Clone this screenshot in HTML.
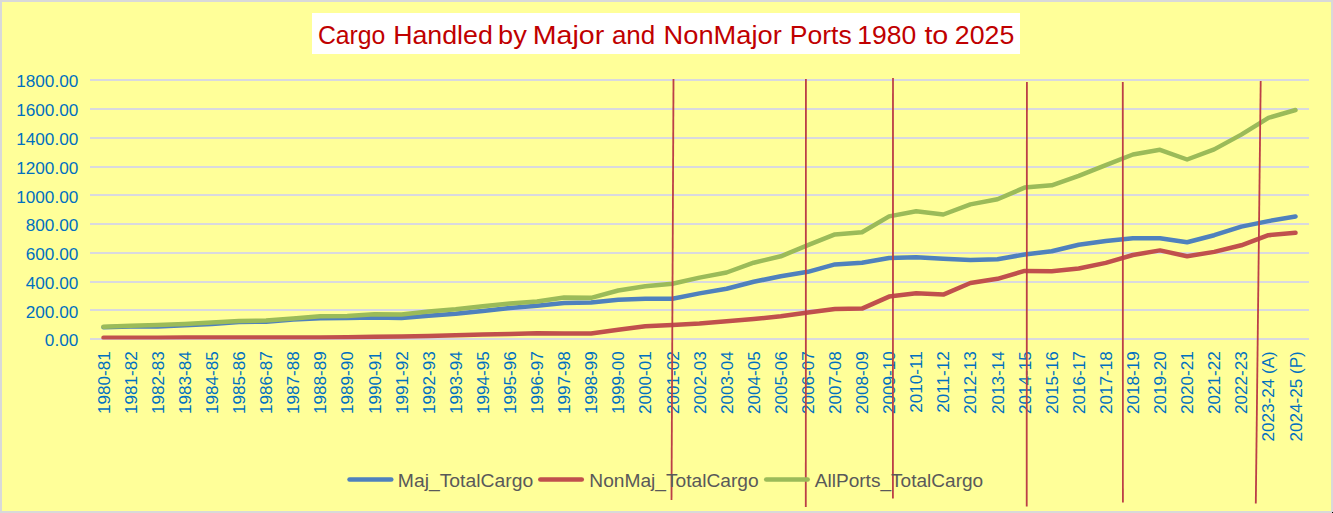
<!DOCTYPE html>
<html><head><meta charset="utf-8"><style>
html,body{margin:0;padding:0;width:1333px;height:513px;overflow:hidden;background:#d9d9d9;}
svg{display:block;position:absolute;left:0;top:0;}
text{font-family:"Liberation Sans",sans-serif;}
</style></head><body>
<svg width="1333" height="513" viewBox="0 0 1333 513">
<rect x="0" y="0" width="1333" height="513" fill="#d9d9d9"/>
<rect x="2" y="2" width="1329" height="509" fill="#ffff99"/>
<rect x="1332" y="512" width="1" height="1" fill="#000"/>
<rect x="312" y="13" width="708" height="41" fill="#ffffff"/>
<g font-size="25.2" fill="#c00000">
<text x="317.90" y="43.6" textLength="67.50" lengthAdjust="spacingAndGlyphs">Cargo</text>
<text x="393.16" y="43.6" textLength="99.67" lengthAdjust="spacingAndGlyphs">Handled</text>
<text x="498.06" y="43.6" textLength="28.75" lengthAdjust="spacingAndGlyphs">by</text>
<text x="532.80" y="43.6" textLength="71.40" lengthAdjust="spacingAndGlyphs">Major</text>
<text x="611.90" y="43.6" textLength="43.39" lengthAdjust="spacingAndGlyphs">and</text>
<text x="663.55" y="43.6" textLength="118.16" lengthAdjust="spacingAndGlyphs">NonMajor</text>
<text x="789.76" y="43.6" textLength="61.96" lengthAdjust="spacingAndGlyphs">Ports</text>
<text x="857.26" y="43.6" textLength="58.97" lengthAdjust="spacingAndGlyphs">1980</text>
<text x="924.40" y="43.6" textLength="23.90" lengthAdjust="spacingAndGlyphs">to</text>
<text x="954.87" y="43.6" textLength="59.44" lengthAdjust="spacingAndGlyphs">2025</text>
</g>
<g stroke="#d9d9df" stroke-width="2">
<line x1="90.0" y1="339" x2="1309.0" y2="339"/>
<line x1="90.0" y1="310" x2="1309.0" y2="310"/>
<line x1="90.0" y1="282" x2="1309.0" y2="282"/>
<line x1="90.0" y1="253" x2="1309.0" y2="253"/>
<line x1="90.0" y1="224" x2="1309.0" y2="224"/>
<line x1="90.0" y1="195" x2="1309.0" y2="195"/>
<line x1="90.0" y1="167" x2="1309.0" y2="167"/>
<line x1="90.0" y1="138" x2="1309.0" y2="138"/>
<line x1="90.0" y1="109" x2="1309.0" y2="109"/>
<line x1="90.0" y1="80" x2="1309.0" y2="80"/>
</g>
<g fill="#0070c0" font-size="17.2" text-anchor="end">
<text x="78.3" y="346.40">0.00</text>
<text x="78.3" y="317.62">200.00</text>
<text x="78.3" y="288.84">400.00</text>
<text x="78.3" y="260.07">600.00</text>
<text x="78.3" y="231.29">800.00</text>
<text x="78.3" y="202.51">1000.00</text>
<text x="78.3" y="173.73">1200.00</text>
<text x="78.3" y="144.96">1400.00</text>
<text x="78.3" y="116.18">1600.00</text>
<text x="78.3" y="87.40">1800.00</text>
</g>
<g fill="#0070c0" font-size="17.1">
<text transform="translate(109.64,351.2) rotate(-90)" text-anchor="end">1980-81</text>
<text transform="translate(136.73,351.2) rotate(-90)" text-anchor="end">1981-82</text>
<text transform="translate(163.82,351.2) rotate(-90)" text-anchor="end">1982-83</text>
<text transform="translate(190.91,351.2) rotate(-90)" text-anchor="end">1983-84</text>
<text transform="translate(218.00,351.2) rotate(-90)" text-anchor="end">1984-85</text>
<text transform="translate(245.09,351.2) rotate(-90)" text-anchor="end">1985-86</text>
<text transform="translate(272.18,351.2) rotate(-90)" text-anchor="end">1986-87</text>
<text transform="translate(299.27,351.2) rotate(-90)" text-anchor="end">1987-88</text>
<text transform="translate(326.36,351.2) rotate(-90)" text-anchor="end">1988-89</text>
<text transform="translate(353.44,351.2) rotate(-90)" text-anchor="end">1989-90</text>
<text transform="translate(380.53,351.2) rotate(-90)" text-anchor="end">1990-91</text>
<text transform="translate(407.62,351.2) rotate(-90)" text-anchor="end">1991-92</text>
<text transform="translate(434.71,351.2) rotate(-90)" text-anchor="end">1992-93</text>
<text transform="translate(461.80,351.2) rotate(-90)" text-anchor="end">1993-94</text>
<text transform="translate(488.89,351.2) rotate(-90)" text-anchor="end">1994-95</text>
<text transform="translate(515.98,351.2) rotate(-90)" text-anchor="end">1995-96</text>
<text transform="translate(543.07,351.2) rotate(-90)" text-anchor="end">1996-97</text>
<text transform="translate(570.16,351.2) rotate(-90)" text-anchor="end">1997-98</text>
<text transform="translate(597.24,351.2) rotate(-90)" text-anchor="end">1998-99</text>
<text transform="translate(624.33,351.2) rotate(-90)" text-anchor="end">1999-00</text>
<text transform="translate(651.42,351.2) rotate(-90)" text-anchor="end">2000-01</text>
<text transform="translate(678.51,351.2) rotate(-90)" text-anchor="end">2001-02</text>
<text transform="translate(705.60,351.2) rotate(-90)" text-anchor="end">2002-03</text>
<text transform="translate(732.69,351.2) rotate(-90)" text-anchor="end">2003-04</text>
<text transform="translate(759.78,351.2) rotate(-90)" text-anchor="end">2004-05</text>
<text transform="translate(786.87,351.2) rotate(-90)" text-anchor="end">2005-06</text>
<text transform="translate(813.96,351.2) rotate(-90)" text-anchor="end">2006-07</text>
<text transform="translate(841.04,351.2) rotate(-90)" text-anchor="end">2007-08</text>
<text transform="translate(868.13,351.2) rotate(-90)" text-anchor="end">2008-09</text>
<text transform="translate(895.22,351.2) rotate(-90)" text-anchor="end">2009-10</text>
<text transform="translate(922.31,351.2) rotate(-90)" text-anchor="end">2010-11</text>
<text transform="translate(949.40,351.2) rotate(-90)" text-anchor="end">2011-12</text>
<text transform="translate(976.49,351.2) rotate(-90)" text-anchor="end">2012-13</text>
<text transform="translate(1003.58,351.2) rotate(-90)" text-anchor="end">2013-14</text>
<text transform="translate(1030.67,351.2) rotate(-90)" text-anchor="end">2014-15</text>
<text transform="translate(1057.76,351.2) rotate(-90)" text-anchor="end">2015-16</text>
<text transform="translate(1084.84,351.2) rotate(-90)" text-anchor="end">2016-17</text>
<text transform="translate(1111.93,351.2) rotate(-90)" text-anchor="end">2017-18</text>
<text transform="translate(1139.02,351.2) rotate(-90)" text-anchor="end">2018-19</text>
<text transform="translate(1166.11,351.2) rotate(-90)" text-anchor="end">2019-20</text>
<text transform="translate(1193.20,351.2) rotate(-90)" text-anchor="end">2020-21</text>
<text transform="translate(1220.29,351.2) rotate(-90)" text-anchor="end">2021-22</text>
<text transform="translate(1247.38,351.2) rotate(-90)" text-anchor="end">2022-23</text>
<text transform="translate(1274.47,351.2) rotate(-90)" text-anchor="end">2023-24 (A)</text>
<text transform="translate(1301.56,351.2) rotate(-90)" text-anchor="end">2024-25 (P)</text>
</g>
<clipPath id="pc"><rect x="85" y="60" width="1240" height="279.6"/></clipPath>
<g fill="none" stroke-width="4.5" stroke-linejoin="round" stroke-linecap="round" clip-path="url(#pc)">
<polyline stroke="#4f81bd" points="103.5,327.3 130.6,326.4 157.7,326.4 184.8,325.2 211.9,324.0 239.0,321.9 266.1,321.7 293.2,319.6 320.3,318.2 347.3,318.0 374.4,317.5 401.5,318.0 428.6,315.8 455.7,313.8 482.8,311.0 509.9,308.0 537.0,305.7 564.1,302.9 591.1,302.6 618.2,299.8 645.3,298.7 672.4,298.7 699.5,293.4 726.6,288.7 753.7,281.8 780.8,276.2 807.9,271.8 834.9,264.4 862.0,262.7 889.1,258.0 916.2,257.2 943.3,258.7 970.4,260.1 997.5,259.2 1024.6,254.5 1051.7,251.2 1078.7,244.7 1105.8,240.9 1132.9,238.2 1160.0,238.2 1187.1,242.2 1214.2,235.2 1241.3,226.6 1268.4,221.1 1295.5,216.5"/>
<polyline stroke="#c0504d" points="103.5,337.8 130.6,337.7 157.7,337.7 184.8,337.6 211.9,337.6 239.0,337.5 266.1,337.5 293.2,337.5 320.3,337.4 347.3,337.3 374.4,336.7 401.5,336.4 428.6,336.0 455.7,335.2 482.8,334.6 509.9,334.0 537.0,333.3 564.1,333.5 591.1,333.5 618.2,329.7 645.3,326.2 672.4,325.0 699.5,323.5 726.6,321.3 753.7,319.0 780.8,316.3 807.9,312.5 834.9,309.0 862.0,308.6 889.1,296.6 916.2,293.2 943.3,294.6 970.4,283.0 997.5,278.8 1024.6,270.9 1051.7,271.3 1078.7,268.5 1105.8,262.9 1132.9,255.0 1160.0,250.4 1187.1,256.2 1214.2,251.9 1241.3,245.3 1268.4,235.2 1295.5,232.8"/>
<polyline stroke="#9bbb59" points="103.5,326.8 130.6,325.7 157.7,325.0 184.8,323.9 211.9,322.6 239.0,320.9 266.1,320.5 293.2,318.5 320.3,316.3 347.3,316.0 374.4,314.3 401.5,314.6 428.6,311.5 455.7,309.2 482.8,306.2 509.9,303.5 537.0,301.5 564.1,297.6 591.1,297.8 618.2,290.5 645.3,286.3 672.4,283.8 699.5,277.6 726.6,272.5 753.7,262.7 780.8,256.3 807.9,245.2 834.9,234.4 862.0,232.3 889.1,216.4 916.2,211.3 943.3,214.5 970.4,204.4 997.5,199.3 1024.6,187.6 1051.7,185.3 1078.7,175.9 1105.8,165.1 1132.9,154.5 1160.0,149.8 1187.1,159.5 1214.2,149.4 1241.3,134.6 1268.4,117.8 1295.5,110.0"/>
</g>
<g stroke="#bc3f47" stroke-width="1.8">
<line x1="673.5" y1="79" x2="671.5" y2="500"/>
<line x1="805.9" y1="79" x2="805.8" y2="507"/>
<line x1="893" y1="78" x2="892.9" y2="498.5"/>
<line x1="1026.9" y1="82" x2="1026.7" y2="506.5"/>
<line x1="1122.8" y1="82" x2="1122.9" y2="502.5"/>
<line x1="1260.7" y1="81" x2="1255.8" y2="503.5"/>
</g>
<g stroke-width="4.7" stroke-linecap="round">
<line x1="349.6" y1="479.5" x2="391.2" y2="479.5" stroke="#4f81bd"/>
<line x1="540.4" y1="479.5" x2="581.7" y2="479.5" stroke="#c0504d"/>
<line x1="766.3" y1="479.5" x2="807.6" y2="479.5" stroke="#9bbb59"/>
</g>
<g fill="#595959" font-size="17.5">
<text x="397.80" y="486.8" textLength="135.41" lengthAdjust="spacingAndGlyphs">Maj_TotalCargo</text>
<text x="589.30" y="486.8" textLength="169.40" lengthAdjust="spacingAndGlyphs">NonMaj_TotalCargo</text>
<text x="814.81" y="486.8" textLength="168.39" lengthAdjust="spacingAndGlyphs">AllPorts_TotalCargo</text>
</g>
</svg>
</body></html>
